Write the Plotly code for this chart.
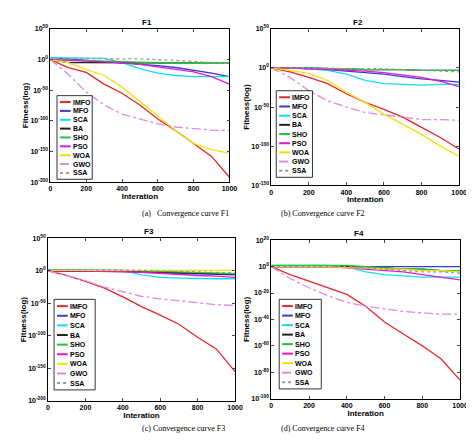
import plotly.graph_objects as go

# iterations sampled every 100
iters = [0, 100, 200, 300, 400, 500, 600, 700, 800, 900, 1000]
names = ["IMFO", "MFO", "SCA", "BA", "SHO", "PSO", "WOA", "GWO", "SSA"]
colors = ["#e5262b", "#3a3ad0", "#10dfee", "#222222", "#22c43c", "#e01ad8", "#f2e20a", "#e08ae0", "#9a9a9a"]
dashes = ["solid", "solid", "solid", "solid", "solid", "solid", "solid", "dashdot", "dot"]

# log10 of best fitness per function / algorithm
F1 = {
    "IMFO": [0, -13, -21, -40, -55, -74, -97, -116, -137, -158, -192],
    "MFO": [3, 1, -2, -3, -5, -7, -10, -13, -17, -22, -28],
    "SCA": [3, 3, 3, 2, -5, -15, -22, -26, -28, -28, -28],
    "BA": [0, -5, -5, -5, -5, -5, -6, -6, -6, -6, -6],
    "SHO": [0, -1, -2, -3, -4, -5, -6, -6, -6, -6, -6],
    "PSO": [0, -1, -2, -3, -5, -8, -12, -16, -20, -28, -40],
    "WOA": [0, -5, -16, -26, -45, -68, -92, -116, -137, -147, -153],
    "GWO": [0, -24, -53, -74, -89, -97, -105, -110, -113, -115, -116],
    "SSA": [2, 2, 2, 2, 2, 1, 0, -1, -3, -5, -6],
}
F2 = {
    "IMFO": [0, -5, -12, -20, -33, -44, -53, -63, -76, -89, -104],
    "MFO": [0, 0, -1, -2, -4, -6, -8, -11, -14, -16, -18],
    "SCA": [0, 0, -1, -3, -8, -16, -20, -21, -22, -21, -21],
    "BA": [0, 0, 0, -1, -1, -2, -2, -2, -3, -3, -3],
    "SHO": [0, 0, 0, -1, -1, -2, -2, -2, -3, -3, -3],
    "PSO": [0, 0, -1, -2, -3, -4, -6, -9, -12, -17, -24],
    "WOA": [0, -3, -7, -16, -31, -44, -59, -72, -85, -100, -113],
    "GWO": [0, -12, -29, -42, -50, -57, -60, -63, -66, -66, -67],
    "SSA": [0, 0, 0, 0, -1, -1, -1, -2, -3, -4, -5],
}
F3 = {
    "IMFO": [0, -7, -16, -26, -40, -55, -68, -82, -102, -120, -155],
    "MFO": [0, 0, 0, 0, -1, -2, -3, -4, -5, -5, -6],
    "SCA": [2, 2, 2, 1, 1, -6, -10, -11, -12, -12, -12],
    "BA": [0, 0, 0, 0, -1, -1, -2, -3, -4, -4, -5],
    "SHO": [2, 2, 2, 1, 1, 0, -1, -2, -3, -3, -4],
    "PSO": [0, 0, 0, 0, -1, -2, -4, -6, -7, -8, -10],
    "WOA": [1, 1, 1, 1, 1, 1, 1, 1, 1, 1, 1],
    "GWO": [0, -8, -15, -25, -32, -39, -43, -46, -50, -52, -53],
    "SSA": [2, 2, 2, 2, 1, 1, 0, -1, -2, -2, -3],
}
F4 = {
    "IMFO": [0, -6, -11, -16, -21, -30, -42, -51, -60, -70, -86],
    "MFO": [0, 0, 0, 0, 0, 0, 0, 0, 0, 0, 0],
    "SCA": [1, 1, 1, 1, 0, -4, -6, -7, -8, -8, -8],
    "BA": [0, 0, 0, 0, 0, -1, -1, -2, -2, -3, -3],
    "SHO": [1, 1, 1, 1, 1, 0, -1, -2, -2, -3, -3],
    "PSO": [0, 0, 0, 0, -1, -2, -3, -4, -6, -8, -10],
    "WOA": [0, 0, 0, 0, -1, -1, -2, -2, -3, -3, -4],
    "GWO": [0, -9, -16, -22, -27, -30, -32, -34, -35, -36, -36],
    "SSA": [0, 0, 0, 0, 0, -1, -2, -3, -4, -4, -5],
}
panels = [("F1", F1, [-200, 50], [50, 0, -50, -100, -150, -200]),
          ("F2", F2, [-150, 50], [50, 0, -50, -100, -150]),
          ("F3", F3, [-200, 50], [50, 0, -50, -100, -150, -200]),
          ("F4", F4, [-100, 20], [20, 0, -20, -40, -60, -80, -100])]
captions = ["(a)   Convergence curve F1", "(b) Convergence curve F2",
            "(c) Convergence curve F3", "(d) Convergence curve F4"]

W, H = 474, 440
xdom = [[0.087, 0.473], [0.563, 0.968], [0.082, 0.485], [0.563, 0.970]]
ydom = [[0.607, 0.961], [0.600, 0.961], [0.102, 0.477], [0.107, 0.473]]
# legend boxes in pixels: x0, x1, y0, y1
leg_box = [(48, 84, 85, 170), (272, 309, 80, 168), (45, 87, 292, 384), (275, 318, 292, 383)]
cap_pos = [(0.28, 0.535), (0.77, 0.535), (0.28, 0.022), (0.77, 0.022)]

fig = go.Figure()
for k, (title, data, yr, tv) in enumerate(panels):
    n = k + 1
    sfx = "" if n == 1 else str(n)
    for name, c, d in zip(names, colors, dashes):
        fig.add_trace(go.Scatter(
            x=iters, y=[10.0 ** v for v in data[name]], name=name, mode="lines",
            line=dict(color=c, width=1.3, dash=d), showlegend=False,
            xaxis="x" + sfx, yaxis="y" + sfx))
    ax = dict(showline=True, linecolor="black", linewidth=0.8, mirror="ticks", ticks="inside",
              ticklen=3, showgrid=False, zeroline=False,
              tickfont=dict(size=7, family="Liberation Sans"))
    fig.layout["xaxis" + sfx] = dict(ax, domain=xdom[k], range=[0, 1000],
                                     tickvals=[0, 200, 400, 600, 800, 1000],
                                     ticktext=["<b>%d</b>" % v for v in [0, 200, 400, 600, 800, 1000]],
                                     anchor="y" + sfx,
                                     title=dict(text="<b>Interation</b>", font=dict(size=8), standoff=0))
    fig.layout["yaxis" + sfx] = dict(ax, domain=ydom[k], type="log", range=yr,
                                     tickvals=[10.0 ** v for v in tv],
                                     ticktext=["<b>10<sup>%d</sup></b>" % v for v in tv],
                                     anchor="x" + sfx,
                                     title=dict(text="<b>Fitness(log)</b>", font=dict(size=8), standoff=0))
    fig.add_annotation(text="<b>" + title + "</b>", xref="paper", yref="paper",
                       x=(xdom[k][0] + xdom[k][1]) / 2, y=ydom[k][1], yanchor="bottom",
                       showarrow=False, font=dict(size=8))
    fig.add_annotation(text=captions[k], xref="paper", yref="paper", x=cap_pos[k][0], y=cap_pos[k][1],
                       showarrow=False, font=dict(size=8, family="Liberation Serif"))
    # legend box
    x0, x1, y0, y1 = leg_box[k]
    fig.add_shape(type="rect", xref="paper", yref="paper", x0=x0 / W, x1=x1 / W,
                  y0=1 - y0 / H, y1=1 - y1 / H, line=dict(color="black", width=0.8),
                  fillcolor="white", layer="above")
    row = (y1 - y0 - 4) / len(names)
    for i, (name, c, d) in enumerate(zip(names, colors, dashes)):
        yc = y0 + 2 + row * (i + 0.5)
        fig.add_shape(type="line", xref="paper", yref="paper", x0=(x0 + 3) / W, x1=(x0 + 14) / W,
                      y0=1 - yc / H, y1=1 - yc / H, line=dict(color=c, width=2, dash=d), layer="above")
        fig.add_annotation(text="<b>" + name + "</b>", xref="paper", yref="paper",
                           x=(x0 + 15) / W, y=1 - yc / H, xanchor="left", yanchor="middle",
                           showarrow=False, font=dict(size=7), borderpad=0)

fig.update_layout(width=W, height=H, margin=dict(l=0, r=0, t=0, b=0),
                  plot_bgcolor="white", paper_bgcolor="white",
                  font=dict(family="Liberation Sans", color="black"))
fig.write_html("out.html")
